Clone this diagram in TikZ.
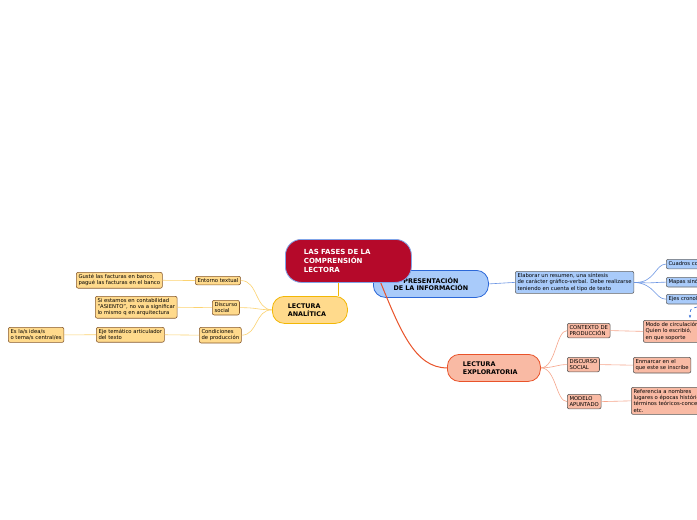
\documentclass[tikz,border=0pt]{standalone}
\usepackage{fontspec}
\setmainfont{DejaVu Sans}
\usetikzlibrary{arrows.meta}
\definecolor{crim}{HTML}{B5092A}
\definecolor{ylf}{HTML}{FFDA8C}\definecolor{yld}{HTML}{F2B705}
\definecolor{blf}{HTML}{A9CBFA}\definecolor{bld}{HTML}{2C68D8}
\definecolor{orf}{HTML}{F9BAA4}\definecolor{ord}{HTML}{E9532A}
\tikzset{
 leaf/.style={draw=#1, rounded corners=2pt, line width=0.6pt, inner sep=2.2pt, align=left, font=\fontsize{5.3}{6.2}\selectfont, anchor=north west},
 main/.style={rounded corners=12pt, line width=0.8pt, font=\bfseries\fontsize{6.4}{7.6}\selectfont, align=left, anchor=north west, inner sep=0pt},
 yl/.style={leaf=brown!70!black, fill=ylf},
 bl/.style={leaf=gray!80!black, fill=blf},
 orl/.style={leaf=gray!70!black, fill=orf},
}
\begin{document}
\begin{tikzpicture}[x=1pt,y=-1pt]
\useasboundingbox (0,0) rectangle (697,520);
\clip (0,0) rectangle (697,520);
\fill[white] (0,0) rectangle (697,520);
% main nodes
\node[main, draw=bld, fill=blf, minimum width=115pt, minimum height=27pt, text width=100pt, align=center] (pres) at (373,270) {PRESENTACIÓN\\DE LA INFORMACIÓN};
\node[main, draw=ord, fill=orf, minimum width=93pt, minimum height=27pt, text width=78pt] (expl) at (447,354) {\hspace*{8pt}LECTURA\\\hspace*{8pt}EXPLORATORIA};
\node[main, draw=yld, fill=ylf, minimum width=75pt, minimum height=27pt, text width=60pt] (anal) at (272,296) {\hspace*{8pt}LECTURA\\\hspace*{8pt}ANALÍTICA};
\draw[ord, line width=1pt] (380,281) .. controls (400,330) and (415,368) .. (expl.west);
\draw[yld, line width=1pt] (338,282) -- (338,296);
\node[main, draw=bld!60!white, fill=crim, text=white, minimum width=126pt, minimum height=43pt, text width=105pt, rounded corners=16pt, font=\bfseries\fontsize{7}{8.6}\selectfont] (cen) at (285,239) {\hspace*{8pt}LAS FASES DE LA\\\hspace*{8pt}COMPRENSIÓN\\\hspace*{8pt}LECTORA};
% left
\node[yl] (ent) at (195,276) {Entorno textual};
\node[yl] (gus) at (76,272) {Gusté las facturas en banco,\\pagué las facturas en el banco};
\node[yl] (dis) at (212,300) {Discurso\\social};
\node[yl] (si) at (95,296) {Si estamos en contabilidad\\"ASIENTO", no va a significar\\lo mismo q en arquitectura};
\node[yl] (con) at (199,327) {Condiciones\\de producción};
\node[yl] (eje) at (96,327) {Eje temático articulador\\del texto};
\node[yl] (es) at (8,327) {Es la/s idea/s\\o tema/s central/es};
\begin{scope}[ylf!80!yld, line width=0.6pt]
\foreach \n in {ent,dis,con}{\draw (anal.west) .. controls (255,309.5) and (258,0|-\n.east) .. (\n.east);}
\draw (ent.west) -- (gus.east);
\draw (dis.west) -- (si.east);
\draw (con.west) -- (eje.east);
\draw (eje.west) -- (es.east);
\end{scope}
% right blue
\node[bl] (ela) at (515,271) {Elaborar un resumen, una síntesis\\de carácter gráfico-verbal. Debe realizarse\\teniendo en cuenta el tipo de texto};
\node[bl] (cua) at (666,259) {Cuadros comparativos};
\node[bl] (map) at (666,277) {Mapas sinópticos};
\node[bl] (ejc) at (666,294) {Ejes cronológicos};
\begin{scope}[bld!70!white, line width=0.6pt]
\draw (pres.east) -- (ela.west);
\foreach \n in {cua,map,ejc}{\draw (ela.east) .. controls (655,283.5) and (655,0|-\n.west) .. (\n.west);}
\end{scope}
% right orange
\node[orl] (ctx) at (567,323) {CONTEXTO DE\\PRODUCCIÓN};
\node[orl] (mod) at (643,320) {Modo de circulación\\Quien lo escribió,\\en que soporte};
\node[orl] (dso) at (567,357) {DISCURSO\\SOCIAL};
\node[orl] (enm) at (633,357) {Enmarcar en el\\que este se inscribe};
\node[orl] (mda) at (567,394) {MODELO\\APUNTADO};
\node[orl] (ref) at (631,387) {Referencia a nombres\\lugares o épocas históricas\\términos teóricos-conceptuales\\etc.};
\begin{scope}[orf!80!ord, line width=0.6pt]
\foreach \n in {ctx,dso,mda}{\draw (expl.east) .. controls (556,367.5) and (556,0|-\n.west) .. (\n.west);}
\draw (ctx.east) -- (mod.west);
\draw (dso.east) -- (enm.west);
\draw (mda.east) -- (ref.west);
\end{scope}
\draw[bld, dashed, line width=0.6pt, -{Stealth[length=3pt]}] (697,307) .. controls (690,309) .. (690,318);
\end{tikzpicture}
\end{document}
